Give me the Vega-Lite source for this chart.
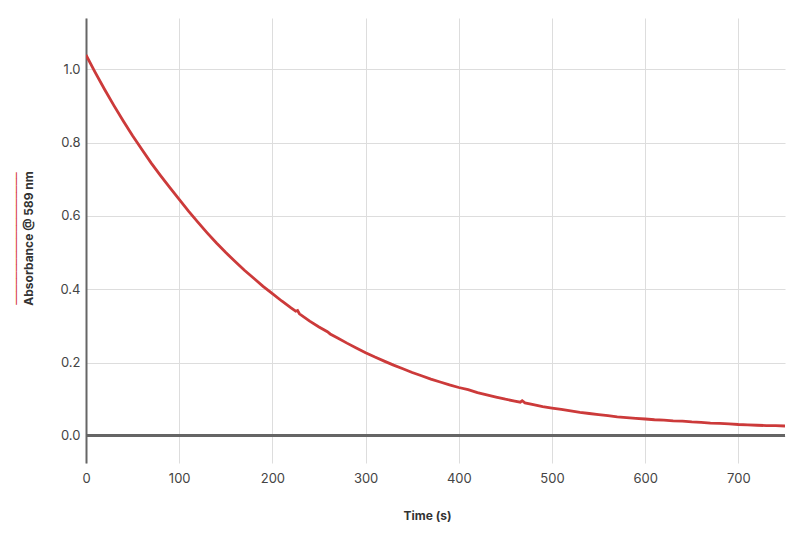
{
  "$schema": "https://vega.github.io/schema/vega-lite/v6.json",
  "autosize": "none",
  "padding": {"left": 86, "top": 18, "right": 15, "bottom": 70},
  "width": 699,
  "height": 445,
  "background": "white",
  "config": {
    "view": {"stroke": null},
    "font": "Inter",
    "axis": {
      "labelFont": "Inter",
      "labelFontSize": 13,
      "labelColor": "#444",
      "titleFont": "Inter",
      "titleFontSize": 12,
      "titleFontWeight": "bold",
      "titleColor": "#333",
      "gridColor": "#dddddd",
      "gridWidth": 1
    }
  },
  "data": {
    "values": [
      {"t": 0, "a": 1.039}, {"t": 10, "a": 0.991}, {"t": 20, "a": 0.945}, {"t": 30, "a": 0.901},
      {"t": 40, "a": 0.859}, {"t": 50, "a": 0.819}, {"t": 60, "a": 0.781}, {"t": 70, "a": 0.744},
      {"t": 80, "a": 0.710}, {"t": 90, "a": 0.677}, {"t": 100, "a": 0.645}, {"t": 110, "a": 0.613},
      {"t": 120, "a": 0.583}, {"t": 130, "a": 0.554}, {"t": 140, "a": 0.526}, {"t": 150, "a": 0.500},
      {"t": 160, "a": 0.476}, {"t": 170, "a": 0.452}, {"t": 180, "a": 0.430}, {"t": 190, "a": 0.408},
      {"t": 200, "a": 0.388}, {"t": 210, "a": 0.368}, {"t": 220, "a": 0.349}, {"t": 225, "a": 0.340},
      {"t": 227, "a": 0.342}, {"t": 229, "a": 0.333}, {"t": 240, "a": 0.313}, {"t": 250, "a": 0.297},
      {"t": 259, "a": 0.284}, {"t": 262, "a": 0.278}, {"t": 270, "a": 0.267}, {"t": 280, "a": 0.253},
      {"t": 290, "a": 0.240}, {"t": 300, "a": 0.227}, {"t": 310, "a": 0.215}, {"t": 320, "a": 0.204},
      {"t": 330, "a": 0.193}, {"t": 340, "a": 0.183}, {"t": 350, "a": 0.173}, {"t": 360, "a": 0.164},
      {"t": 370, "a": 0.155}, {"t": 380, "a": 0.147}, {"t": 390, "a": 0.139}, {"t": 400, "a": 0.132},
      {"t": 410, "a": 0.126}, {"t": 420, "a": 0.118},
      {"t": 430, "a": 0.112}, {"t": 440, "a": 0.106}, {"t": 450, "a": 0.100}, {"t": 460, "a": 0.095},
      {"t": 466, "a": 0.092}, {"t": 468, "a": 0.096}, {"t": 471, "a": 0.090}, {"t": 480, "a": 0.085},
      {"t": 490, "a": 0.080}, {"t": 500, "a": 0.076}, {"t": 510, "a": 0.072}, {"t": 520, "a": 0.068},
      {"t": 530, "a": 0.064}, {"t": 540, "a": 0.061}, {"t": 550, "a": 0.058}, {"t": 560, "a": 0.055},
      {"t": 570, "a": 0.052}, {"t": 580, "a": 0.050}, {"t": 590, "a": 0.048}, {"t": 600, "a": 0.046},
      {"t": 610, "a": 0.044}, {"t": 620, "a": 0.043}, {"t": 630, "a": 0.041}, {"t": 640, "a": 0.040},
      {"t": 650, "a": 0.038}, {"t": 660, "a": 0.037}, {"t": 670, "a": 0.035}, {"t": 680, "a": 0.034},
      {"t": 690, "a": 0.033}, {"t": 700, "a": 0.031}, {"t": 710, "a": 0.030}, {"t": 720, "a": 0.029},
      {"t": 730, "a": 0.028}, {"t": 740, "a": 0.028}, {"t": 750, "a": 0.027}
    ]
  },
  "layer": [
    {
      "mark": {"type": "rule", "color": "#666666", "strokeWidth": 2},
      "encoding": {
        "y": {
          "datum": 0,
          "type": "quantitative",
          "scale": {"domain": [-0.074, 1.14], "nice": false, "zero": false},
          "axis": {
            "orient": "left",
            "title": "────────────────────",
            "titleFont": "DejaVu Sans",
            "titleFontWeight": "normal",
            "titleFontSize": 11,
            "titleColor": "#d3302c",
            "titleAngle": -90,
            "titleAlign": "center",
            "titleBaseline": "middle",
            "titleX": -70,
            "titleY": 220,
            "labels": false,
            "ticks": false,
            "domain": false,
            "grid": false
          }
        }
      }
    },
    {
      "mark": {"type": "line", "color": "#cc3a3a", "strokeWidth": 2.8, "clip": true},
      "encoding": {
        "x": {
          "field": "t",
          "type": "quantitative",
          "scale": {"domain": [0, 750], "nice": false},
          "axis": {
            "title": "Time (s)",
            "values": [0, 100, 200, 300, 400, 500, 600, 700],
            "domain": false,
            "ticks": false,
            "grid": true,
            "labelFlush": false,
            "labelPadding": 9,
            "titleX": 341,
            "titleY": 52,
            "titleBaseline": "middle"
          }
        },
        "y": {
          "field": "a",
          "type": "quantitative",
          "scale": {"domain": [-0.074, 1.14], "nice": false, "zero": false},
          "axis": {
            "orient": "left",
            "title": "Absorbance @ 589 nm",
            "values": [0, 0.2, 0.4, 0.6, 0.8, 1.0],
            "format": ".1f",
            "grid": true,
            "labelFlush": false,
            "domainColor": "#666666",
            "domainWidth": 2,
            "ticks": false,
            "labelPadding": 6,
            "titleAngle": -90,
            "titleAlign": "center",
            "titleBaseline": "middle",
            "titleX": -58,
            "titleY": 220
          }
        }
      }
    }
  ],
  "resolve": {"scale": {"y": "independent"}}
}
